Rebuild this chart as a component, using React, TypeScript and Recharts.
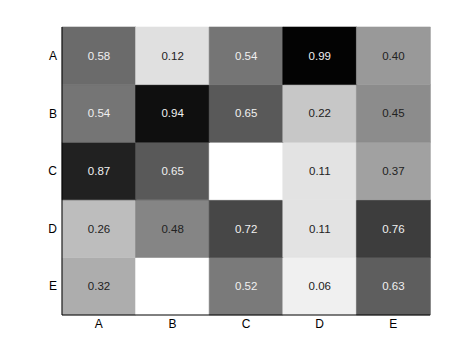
import { BarChart, Bar, XAxis, YAxis, Cell, LabelList } from 'recharts'

const columns = ['A', 'B', 'C', 'D', 'E']
const rows = ['A', 'B', 'C', 'D', 'E']

// one array per row, left to right; null = empty (white) cell
const rowA = [0.58, 0.12, 0.54, 0.99, 0.4]
const rowB = [0.54, 0.94, 0.65, 0.22, 0.45]
const rowC = [0.87, 0.65, null, 0.11, 0.37]
const rowD = [0.26, 0.48, 0.72, 0.11, 0.76]
const rowE = [0.32, null, 0.52, 0.06, 0.63]

const grid: Record<string, (number | null)[]> = { A: rowA, B: rowB, C: rowC, D: rowD, E: rowE }

const yTicks = [0.5, 1.5, 2.5, 3.5, 4.5]

// each column is a stack of 5 unit blocks, bottom row first
const data = columns.map((c, j) => {
  const d: any = { col: c }
  rows.forEach((r) => {
    d[r] = 1
    d[r + 'Val'] = grid[r][j]
  })
  return d
})

const gray = (v: number | null) => {
  if (v == null) return '#ffffff'
  const g = Math.round(255 * (1 - v))
  return `rgb(${g},${g},${g})`
}

const font = 'Arial, "Liberation Sans", sans-serif'

const cellLabel = (props: any) => {
  const { x, y, width, height, value } = props
  if (value == null) return null
  return (
    <text
      x={x + width / 2}
      y={y + height / 2}
      dy={4}
      textAnchor="middle"
      fontSize={11.5}
      fontFamily={font}
      fill={value >= 0.5 ? '#f0f0f0' : '#222'}
    >
      {value.toFixed(2)}
    </text>
  )
}

export default function App() {
  const stackOrder = [...rows].reverse()
  return (
    <div style={{ position: 'absolute', left: 0, top: 0, background: '#fff' }}>
      <BarChart
        width={474}
        height={354}
        data={data}
        margin={{ top: 27, right: 44, left: 42, bottom: 9 }}
        barCategoryGap={0}
        barGap={0}
      >
        {stackOrder.map((r) => (
          <Bar key={r} dataKey={r} stackId="s" isAnimationActive={false}>
            {data.map((d, i) => (
              <Cell key={i} fill={gray(d[r + 'Val'])} stroke={gray(d[r + 'Val'])} strokeWidth={0.6} />
            ))}
            <LabelList dataKey={r + 'Val'} content={cellLabel} />
          </Bar>
        ))}
        <XAxis
          dataKey="col"
          axisLine={{ stroke: '#000' }}
          tickLine={false}
          tickSize={0}
          height={30}
          tick={{ fontSize: 12, fontFamily: font, fill: '#000' }}
          tickMargin={4}
        />
        <XAxis
          xAxisId="top"
          orientation="top"
          dataKey="col"
          height={0}
          tick={false}
          tickLine={false}
          axisLine={{ stroke: '#000' }}
        />
        <YAxis
          type="number"
          domain={[0, 5]}
          ticks={yTicks}
          tickFormatter={(v: number) => rows[4 - Math.floor(v)]}
          axisLine={{ stroke: '#000' }}
          tickLine={false}
          tickSize={0}
          width={20}
          tick={{ fontSize: 12, fontFamily: font, fill: '#000' }}
          tickMargin={5}
        />
        <YAxis
          yAxisId="right"
          orientation="right"
          type="number"
          domain={[0, 5]}
          width={0}
          tick={false}
          tickLine={false}
          axisLine={{ stroke: '#000' }}
        />
      </BarChart>
    </div>
  )
}
